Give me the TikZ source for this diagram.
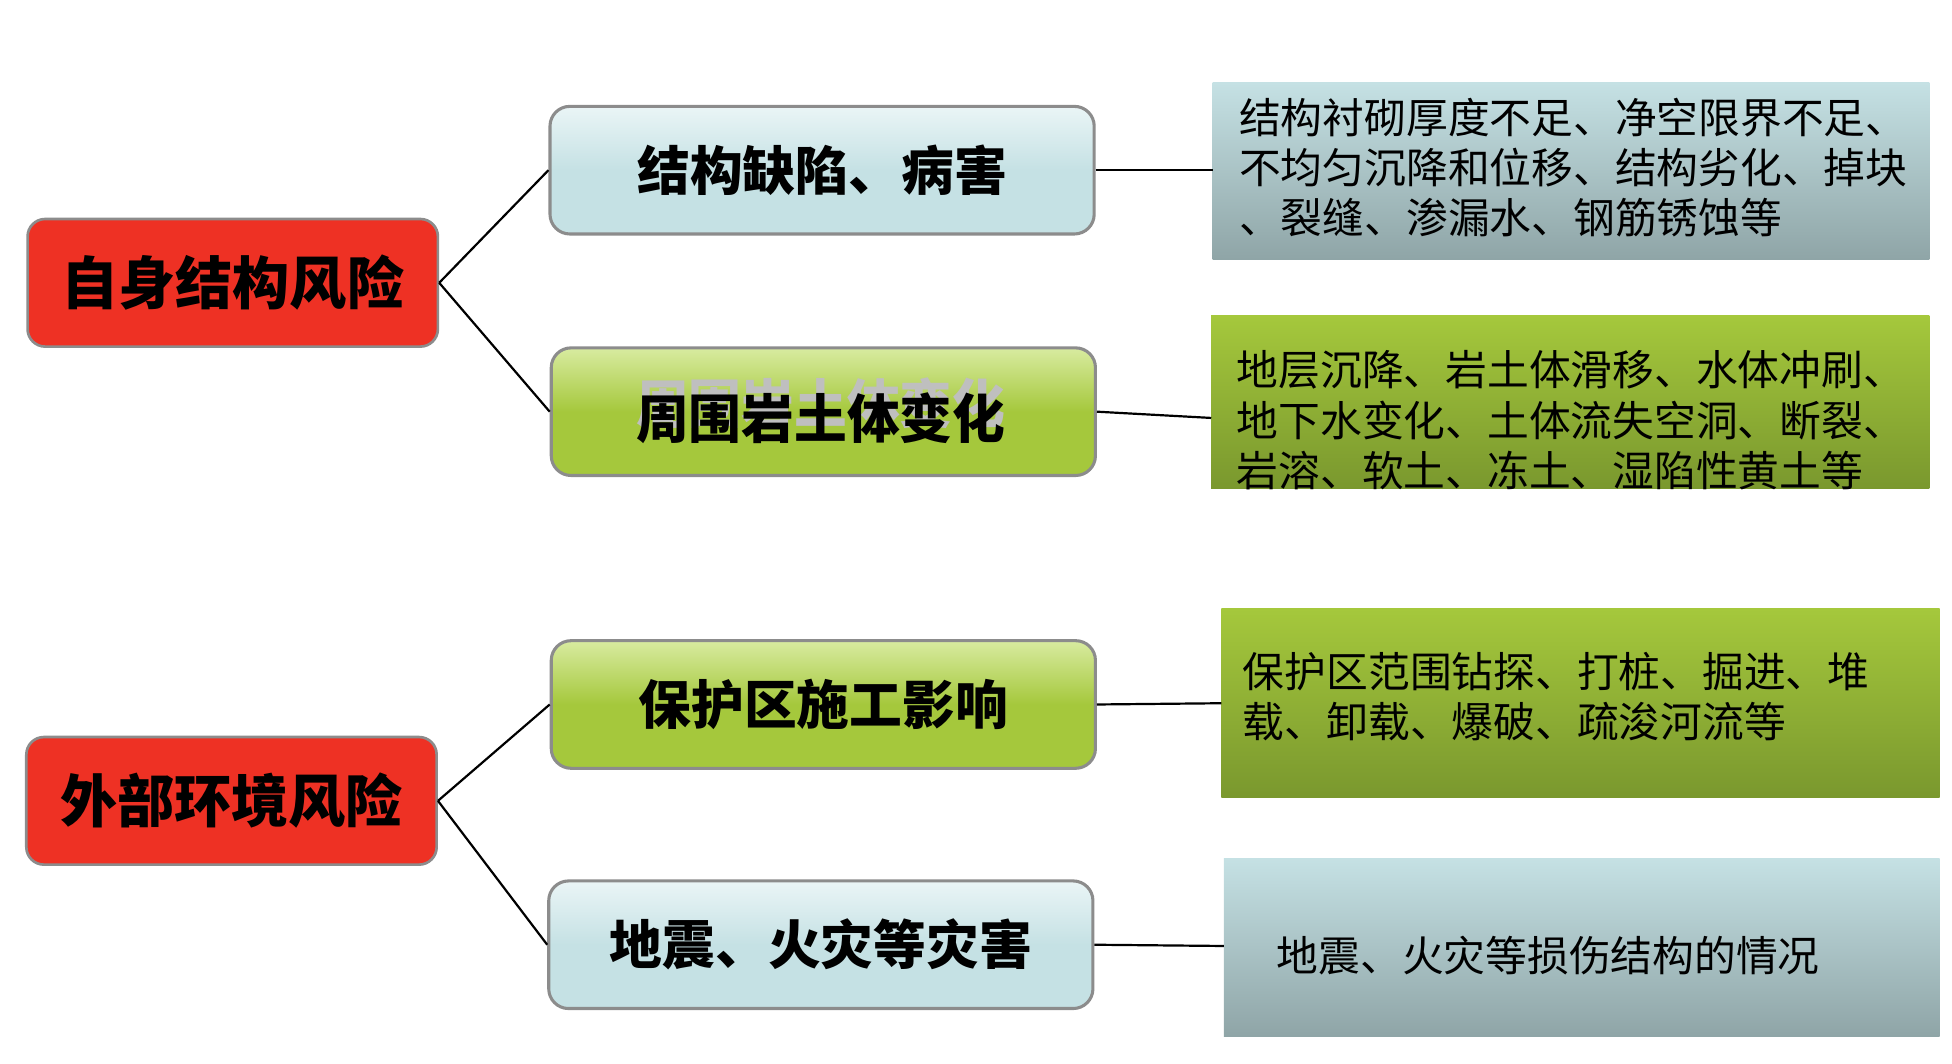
\documentclass[tikz,border=0pt]{standalone}
\usepackage{fontspec}
\setmainfont{Noto Sans CJK SC}
\usetikzlibrary{shadows}
\definecolor{riskred}{HTML}{EE3124}
\definecolor{boxgray}{HTML}{8C8C8C}
\definecolor{paleblue}{HTML}{C5E1E4}
\definecolor{lightblue}{HTML}{EAF5F6}
\definecolor{leafgreen}{HTML}{A5C83C}
\definecolor{lightgreen}{HTML}{D8EBA0}
\definecolor{slateblue}{HTML}{8FA5A7}
\definecolor{olivegreen}{HTML}{7A982E}
\tikzset{
  risk/.style={draw=boxgray, line width=1.2pt, rounded corners=8pt, fill=riskred,
    minimum width=6.56cm, minimum height=2.04cm, font=\fontsize{26}{30}\selectfont\bfseries},
  cause/.style={draw=boxgray, line width=1.4pt, rounded corners=9pt,
    minimum width=8.7cm, minimum height=2.04cm, font=\fontsize{24}{28}\selectfont\bfseries},
  bluecause/.style={cause, shading=axis, top color=lightblue, bottom color=paleblue, middle color=paleblue},
  greencause/.style={cause, shading=axis, top color=lightgreen, bottom color=leafgreen, middle color=leafgreen},
  detail/.style={anchor=north west, inner sep=0pt, align=left,
    font=\fontsize{19}{20}\selectfont},
  bluedetail/.style={top color=paleblue, bottom color=slateblue},
  greendetail/.style={top color=leafgreen, bottom color=olivegreen},
  link/.style={line width=1pt, black}
}
\begin{document}
\begin{tikzpicture}[x=0.02cm, y=-0.02cm]
  \useasboundingbox (0,0) rectangle (1560,850);
  % detail panels
  \shade[bluedetail] (969,66) rectangle (1542,207);
  \shade[greendetail] (968,252) rectangle (1542,390);
  \shade[greendetail] (976,486) rectangle (1550,637);
  \shade[bluedetail] (978,686) rectangle (1550,828);
  \node[detail] (dA) at (990,78) {结构衬砌厚度不足、净空限界不足、\\[0.1cm]不均匀沉降和位移、结构劣化、掉块\\[0.1cm]、裂缝、渗漏水、钢筋锈蚀等};
  \node[detail] (dB) at (988,280) {地层沉降、岩土体滑移、水体冲刷、\\[0.1cm]地下水变化、土体流失空洞、断裂、\\[0.1cm]岩溶、软土、冻土、湿陷性黄土等};
  \node[detail] (dC) at (993,521) {保护区范围钻探、打桩、掘进、堆\\[0.1cm]载、卸载、爆破、疏浚河流等};
  \node[detail] (dD) at (1020,748) {地震、火灾等损伤结构的情况};
  \coordinate (pA) at (969,136);
  \coordinate (pB) at (968,334);
  \coordinate (pC) at (976,562);
  \coordinate (pD) at (978,756);

  % risk nodes
  \node[risk] (self) at (186,226) {自身结构风险};
  \node[risk] (ext) at (185,640) {外部环境风险};

  % cause nodes
  \node[bluecause] (defect) at (657,136) {结构缺陷、病害};
  \node[greencause] (rock) at (658,329) {};
  \node[text=black!25, font=\fontsize{24}{28}\selectfont\bfseries] (ghost) at (656,322) {周围岩土体变化};
  \node[font=\fontsize{24}{28}\selectfont\bfseries] (rocktxt) at (656,334) {周围岩土体变化};
  \node[greencause] (build) at (658,563) {保护区施工影响};
  \node[bluecause] (quake) at (656,755) {地震、火灾等灾害};

  \draw[link] (self.east) -- (defect.west);
  \draw[link] (self.east) -- (rock.west);
  \draw[link] (ext.east) -- (build.west);
  \draw[link] (ext.east) -- (quake.west);
  \draw[link] (defect.east) -- (pA);
  \draw[link] (rock.east) -- (pB);
  \draw[link] (build.east) -- (pC);
  \draw[link] (quake.east) -- (pD);
\end{tikzpicture}
\end{document}
